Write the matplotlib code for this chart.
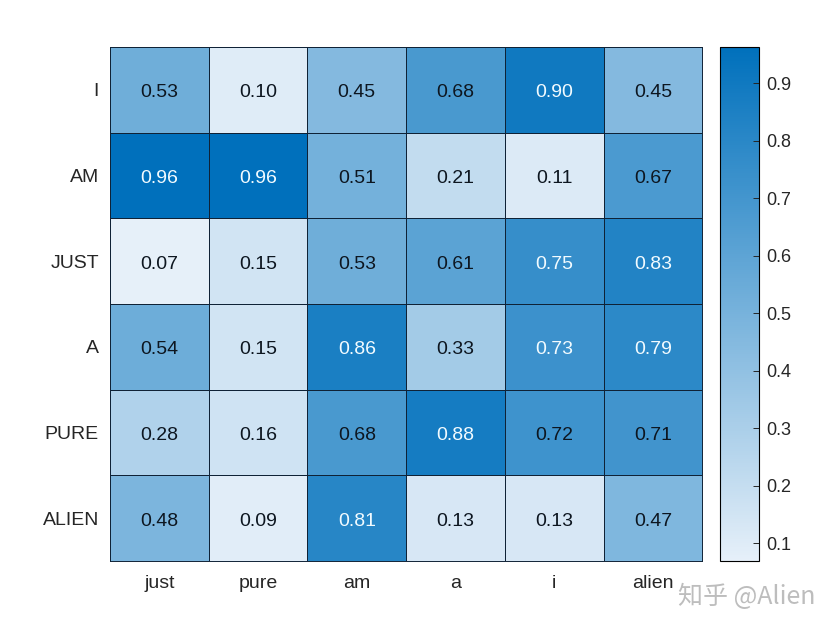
import matplotlib.pyplot as plt
from matplotlib.colors import LinearSegmentedColormap
import numpy as np

plt.rcParams['font.family'] = ['Liberation Sans', 'DejaVu Sans']

row_labels = ['I', 'AM', 'JUST', 'A', 'PURE', 'ALIEN']
col_labels = ['just', 'pure', 'am', 'a', 'i', 'alien']
row_I = [0.53, 0.10, 0.45, 0.68, 0.90, 0.45]
row_AM = [0.96, 0.96, 0.51, 0.21, 0.11, 0.67]
row_JUST = [0.07, 0.15, 0.53, 0.61, 0.75, 0.83]
row_A = [0.54, 0.15, 0.86, 0.33, 0.73, 0.79]
row_PURE = [0.28, 0.16, 0.68, 0.88, 0.72, 0.71]
row_ALIEN = [0.48, 0.09, 0.81, 0.13, 0.13, 0.47]
values = np.array([row_I, row_AM, row_JUST, row_A, row_PURE, row_ALIEN])

cmap = LinearSegmentedColormap.from_list('mblue', ['#E6F0F9', '#0070BC'])
vmin, vmax = 0.069, 0.963

fig = plt.figure(figsize=(8.4, 6.3), dpi=100)
ax = fig.add_axes([0.131, 0.1095, 0.705, 0.8159])
cax = fig.add_axes([0.857, 0.1095, 0.0464, 0.8159])

im = ax.pcolormesh(values, cmap=cmap, vmin=vmin, vmax=vmax,
                   edgecolor='#0f2236', linewidth=0.5)
ax.set_xlim(0, 6)
ax.set_ylim(6, 0)
ax.set_xticks(np.arange(6) + 0.5)
ax.set_xticklabels(col_labels)
ax.set_yticks(np.arange(6) + 0.5)
ax.set_yticklabels(row_labels)
ax.tick_params(length=0, labelsize=14, colors='#262626', pad=8)
ax.tick_params(axis='x', pad=10)
for s in ax.spines.values():
    s.set_color('#0f2236')
    s.set_linewidth(0.7)

# text colour flips to white on the darker cells
for i in range(6):
    for j in range(6):
        v = values[i, j]
        c = '#f2fbff' if v > 0.725 else '#0d1620'
        ax.text(j + 0.5, i + 0.535, f'{v:.2f}', ha='center', va='center',
                fontsize=14, color=c)

cb = fig.colorbar(im, cax=cax)
cb.set_ticks([0.1, 0.2, 0.3, 0.4, 0.5, 0.6, 0.7, 0.8, 0.9])
cb.ax.tick_params(direction='in', length=4, labelsize=13, colors='#262626',
                  width=0.7, pad=5)
cb.outline.set_linewidth(0.8)
cb.outline.set_edgecolor('black')

fig.text(0.889, 0.052, '知乎 @Alien', ha='center', va='center', fontsize=18,
         color='#bdbdbd', family=['Noto Sans CJK SC', 'DejaVu Sans'])

fig.savefig('out.png', dpi=100)
